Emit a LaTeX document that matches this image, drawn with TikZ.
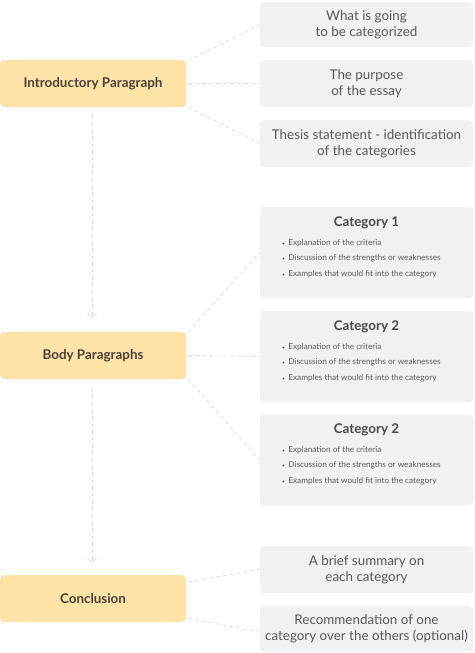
\documentclass[tikz,border=0pt]{standalone}
\usepackage{fontspec}
\setmainfont{Lato}
\usetikzlibrary{arrows.meta,calc}
\definecolor{orangefill}{HTML}{FDE3A8}
\definecolor{grayfill}{HTML}{F0F1F3}
\definecolor{dashcol}{HTML}{D6DDE4}
\definecolor{lefttext}{HTML}{4A4234}
\definecolor{righttext}{HTML}{58585C}
\begin{document}
\begin{tikzpicture}[x=1pt,y=-1pt,
  leftbox/.style={fill=orangefill, rounded corners=4pt, minimum width=186pt, minimum height=47pt, inner sep=0pt, font=\bfseries\fontsize{13.4}{15}\selectfont, text=lefttext},
  rightbox/.style={fill=grayfill, rounded corners=4pt, minimum width=213pt, inner sep=0pt, align=center, font=\fontsize{13.4}{16}\selectfont, text=righttext},
  link/.style={draw=dashcol, line width=0.8pt, dash pattern=on 4pt off 3pt},
  flow/.style={link, -{Straight Barb[length=4pt,width=9pt]}},
  cattitle/.style={inner sep=0pt, font=\fontsize{13.4}{15}\selectfont\bfseries, text=righttext!85!black},
  catitem/.style={anchor=west, inner sep=0pt, font=\fontsize{8.2}{9}\selectfont, text=righttext}
]
\useasboundingbox (0,0) rectangle (474,653);

% left boxes
\node[leftbox] (intro) at (93,83.5) {Introductory Paragraph};
\node[leftbox] (body) at (93,355.5) {Body Paragraphs};
\node[leftbox] (concl) at (93,598.5) {Conclusion};

% right boxes
\node[rightbox, minimum height=45pt] (b1) at (366.5,24.5) {What is going\\to be categorized};
\node[rightbox, minimum height=47pt] (b2) at (366.5,83.5) {The purpose\\of the essay};
\node[rightbox, minimum height=47pt] (b3) at (366.5,143.5) {Thesis statement - identification\\of the categories};

\node[rightbox, minimum height=91pt] (cat1) at (366.5,252.5) {};
\node[rightbox, minimum height=91pt] (cat2) at (366.5,356.5) {};
\node[rightbox, minimum height=91pt] (cat3) at (366.5,460) {};

\node[rightbox, minimum height=47pt] (sum) at (366.5,569.5) {A brief summary on\\each category};
\node[rightbox, minimum height=46pt] (rec) at (366.5,629) {Recommendation of one\\category over the others (optional)};

% category contents
\foreach \c/\t/\lab in {cat1/1/Category 1, cat2/2/Category 2, cat3/3/Category 2}{
  \node[cattitle] (\c t) at ($(\c.north)+(0,16)$) {\lab};
  \node[catitem] (\c a) at ($(\c.north west)+(22,36)$) {{\tiny\textbullet}\hspace{3.5pt}Explanation of the criteria};
  \node[catitem] (\c b) at ($(\c.north west)+(22,51)$) {{\tiny\textbullet}\hspace{3.5pt}Discussion of the strengths or weaknesses};
  \node[catitem] (\c c) at ($(\c.north west)+(22,67)$) {{\tiny\textbullet}\hspace{3.5pt}Examples that would fit into the category};
}

% connectors
\draw[link] ($(intro.north east)+(2,1)$) -- (b1.west);
\draw[link] ($(intro.east)+(2,0)$) -- (b2.west);
\draw[link] ($(intro.south east)+(2,0)$) -- (b3.west);

\draw[link] ($(body.north east)+(2,0)$) -- (cat1.west);
\draw[link] ($(body.east)+(2,0)$) -- (cat2.west);
\draw[link] ($(body.south east)+(2,0)$) -- (cat3.west);

\draw[link] ($(concl.north east)+(2,7)$) -- (sum.west);
\draw[link] ($(concl.south east)+(2,-4)$) -- ($(rec.west)+(0,3)$);

% flow arrows
\draw[flow] ($(intro.south)+(-1,8)$) -- ($(body.north)+(-1,-14)$);
\draw[flow] ($(body.south)+(-1,9)$) -- ($(concl.north)+(-1,-12)$);
\end{tikzpicture}
\end{document}
